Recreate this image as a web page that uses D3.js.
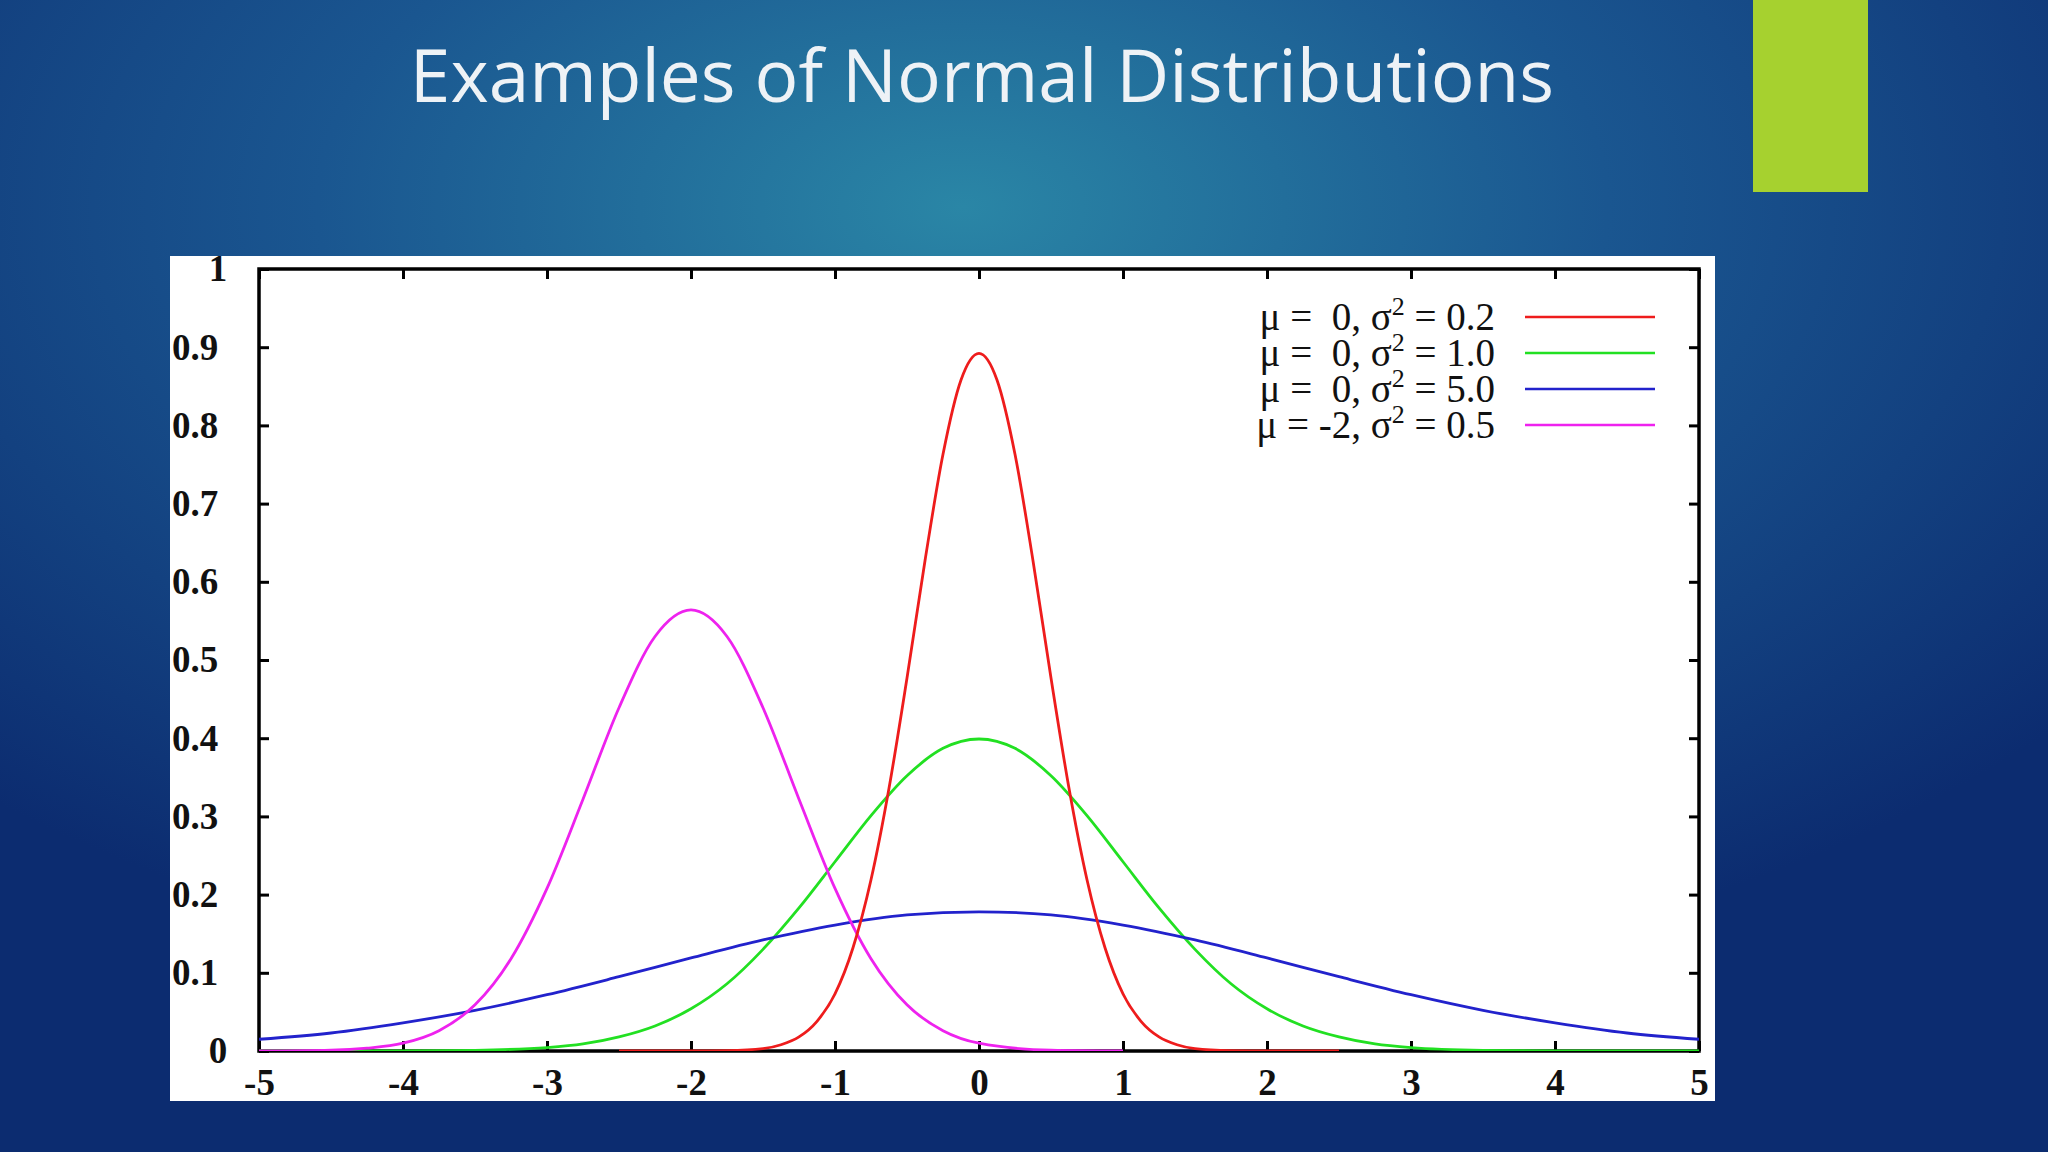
<!DOCTYPE html>
<html><head><meta charset="utf-8">
<script src="https://cdn.jsdelivr.net/npm/d3@7"></script>
<style>html,body{margin:0;padding:0;overflow:hidden}</style>
</head><body>
<script>
// Tick labels
const xTicks = [-5,-4,-3,-2,-1,0,1,2,3,4,5];
const yTicks = [0,0.1,0.2,0.3,0.4,0.5,0.6,0.7,0.8,0.9,1];
// Series (x, y)
const redX = [-2.5,-2,-1.75,-1.5,-1.375,-1.25,-1.125,-1,-0.875,-0.75,-0.625,-0.5,-0.375,-0.25,-0.125,0,0.125,0.25,0.375,0.5,0.625,0.75,0.875,1,1.125,1.25,1.375,1.5,1.75,2,2.5];
const redY = [0,0,0.0005,0.003,0.008,0.018,0.038,0.073,0.132,0.219,0.336,0.477,0.627,0.763,0.858,0.892,0.858,0.763,0.627,0.477,0.336,0.219,0.132,0.073,0.038,0.018,0.008,0.003,0.0005,0,0];
const greenX = [-5,-4.5,-4,-3.5,-3,-2.75,-2.5,-2.25,-2,-1.75,-1.5,-1.25,-1,-0.75,-0.5,-0.25,0,0.25,0.5,0.75,1,1.25,1.5,1.75,2,2.25,2.5,2.75,3,3.5,4,4.5,5];
const greenY = [0,0,0.0001,0.0009,0.0044,0.009,0.018,0.032,0.054,0.086,0.130,0.183,0.242,0.301,0.352,0.387,0.399,0.387,0.352,0.301,0.242,0.183,0.130,0.086,0.054,0.032,0.018,0.009,0.0044,0.0009,0.0001,0,0];
const blueX = [-5,-4.5,-4,-3.5,-3,-2.5,-2,-1.5,-1,-0.5,0,0.5,1,1.5,2,2.5,3,3.5,4,4.5,5];
const blueY = [0.015,0.023,0.036,0.052,0.072,0.095,0.119,0.142,0.161,0.174,0.178,0.174,0.161,0.142,0.119,0.095,0.072,0.052,0.036,0.023,0.015];
const magX = [-5,-4.5,-4.25,-4,-3.75,-3.5,-3.25,-3,-2.75,-2.5,-2.25,-2,-1.75,-1.5,-1.25,-1,-0.75,-0.5,-0.25,0,0.5,1];
const magY = [0,0.001,0.0036,0.010,0.026,0.059,0.118,0.208,0.322,0.439,0.530,0.564,0.530,0.439,0.322,0.208,0.118,0.059,0.026,0.010,0.001,0];
const seriesNames = ["μ =  0, σ² = 0.2","μ =  0, σ² = 1.0","μ =  0, σ² = 5.0","μ = -2, σ² = 0.5"];
const seriesColors = ["#ee1c1c","#22e022","#2222cc","#ee22ee"];

const W=2048,H=1152;
const svg=d3.select("body").append("svg").attr("width",W).attr("height",H);
const defs=svg.append("defs");
const g=defs.append("radialGradient").attr("id","bg").attr("cx","0.47").attr("cy","0.18").attr("r","0.7");
g.append("stop").attr("offset","0").attr("stop-color","#2a86a6");
g.append("stop").attr("offset","0.45").attr("stop-color","#1a5690");
g.append("stop").attr("offset","1").attr("stop-color","#0c2c70");
svg.append("rect").attr("width",W).attr("height",H).attr("fill","url(#bg)");
svg.append("rect").attr("x",1753).attr("y",0).attr("width",115).attr("height",192).attr("fill","#a6d12f");
svg.append("text").attr("x",982).attr("y",102).attr("text-anchor","middle")
  .attr("font-family","'Open Sans', sans-serif").attr("font-size",73).attr("fill","#eef2f6")
  .text("Examples of Normal Distributions");

svg.append("rect").attr("x",170).attr("y",256).attr("width",1545).attr("height",845).attr("fill","#fff");
const L=259,R=1699,T=269,B=1051;
const x=d3.scaleLinear().domain([-5,5]).range([L,R]);
const y=d3.scaleLinear().domain([0,1]).range([B,T]);
const serif="'Liberation Serif','DejaVu Serif',serif";

const ax=svg.append("g").attr("transform",`translate(0,${B})`).call(d3.axisBottom(x).tickValues(xTicks).tickSize(-10).tickPadding(24).tickFormat(d=>String(d)));
const ax2=svg.append("g").attr("transform",`translate(0,${T})`).call(d3.axisTop(x).tickValues(xTicks).tickSize(-10).tickFormat(""));
const ay=svg.append("g").attr("transform",`translate(${L},0)`).call(d3.axisLeft(y).tickValues(yTicks).tickSize(-10).tickFormat(d=>d===0?"0":d===1?"1":d3.format(".1f")(d)));
const ay2=svg.append("g").attr("transform",`translate(${R},0)`).call(d3.axisRight(y).tickValues(yTicks).tickSize(-10).tickFormat(""));
[ax,ax2,ay,ay2].forEach(a=>{a.select(".domain").remove();a.selectAll("line").attr("stroke","#000").attr("stroke-width",3);
  a.selectAll("text").attr("font-family",serif).attr("font-size",37).attr("font-weight","bold").attr("fill","#111");});
ax.selectAll("text").attr("dy","0.55em");
ay.selectAll("text").attr("text-anchor",d=>(d===0||d===1)?"middle":"start").attr("x",d=>(d===0||d===1)?218-L:172-L);
svg.append("rect").attr("x",L).attr("y",T).attr("width",R-L).attr("height",B-T).attr("fill","none").attr("stroke","#000").attr("stroke-width",3.5);

const line=d3.line().x(d=>x(d[0])).y(d=>y(d[1])).curve(d3.curveMonotoneX);
const data=[d3.zip(redX,redY),d3.zip(greenX,greenY),d3.zip(blueX,blueY),d3.zip(magX,magY)];
defs.append("clipPath").attr("id","c").append("rect").attr("x",L).attr("y",T).attr("width",R-L).attr("height",B-T);
const pl=svg.append("g").attr("clip-path","url(#c)");
[1,2,3,0].forEach(i=>pl.append("path").attr("d",line(data[i])).attr("fill","none").attr("stroke",seriesColors[i]).attr("stroke-width",2.8));

const leg=svg.append("g");
seriesNames.forEach((n,i)=>{
  const yy=330+i*36;
  const parts=n.split("²");
  const t=leg.append("text").attr("x",1495).attr("y",yy).attr("text-anchor","end").attr("font-family",serif).attr("font-size",39).attr("fill","#111").attr("xml:space","preserve").style("white-space","pre");
  t.append("tspan").text(parts[0]);
  t.append("tspan").attr("dy",-15).attr("font-size",26).text("2");
  t.append("tspan").attr("dy",15).text(parts[1]);
  leg.append("line").attr("x1",1525).attr("x2",1655).attr("y1",yy-13).attr("y2",yy-13).attr("stroke",seriesColors[i]).attr("stroke-width",2.6);
});
</script>
</body></html>
